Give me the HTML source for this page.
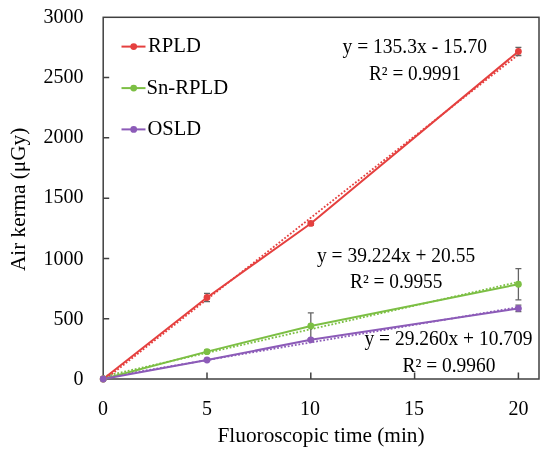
<!DOCTYPE html><html><head><meta charset="utf-8"><style>html,body{margin:0;padding:0;background:#fff;overflow:hidden;}svg{display:block;}text{font-family:"Liberation Serif",serif;fill:#000;}</style></head><body>
<svg width="550" height="459" viewBox="0 0 550 459">
<g id="plot">
<rect x="103.20" y="17.3" width="435.80" height="361.70" fill="none" stroke="#404040" stroke-width="1.5"/>
<path d="M103.20,318.72h6M103.20,258.43h6M103.20,198.15h6M103.20,137.86h6M103.20,77.57h6M207.00,379.00v-6.5M310.80,379.00v-6.5M414.60,379.00v-6.5M518.40,379.00v-6.5" stroke="#404040" stroke-width="1.5" fill="none"/>
<line x1="103.20" y1="380.89" x2="518.40" y2="54.63" stroke="#E5403F" stroke-width="1.8" stroke-dasharray="1.8 1.8"/>
<line x1="103.20" y1="376.52" x2="518.40" y2="281.94" stroke="#7CBF44" stroke-width="1.8" stroke-dasharray="1.8 1.8"/>
<line x1="103.20" y1="377.71" x2="518.40" y2="307.15" stroke="#8C5BB8" stroke-width="1.8" stroke-dasharray="1.8 1.8"/>
<polyline points="103.20,379.00 207.00,297.49 310.80,223.46 518.40,51.41" fill="none" stroke="#E5403F" stroke-width="2" stroke-linejoin="round"/>
<polyline points="103.20,379.00 207.00,351.63 310.80,325.95 518.40,284.23" fill="none" stroke="#7CBF44" stroke-width="2" stroke-linejoin="round"/>
<polyline points="103.20,379.00 207.00,360.00 310.80,339.81 518.40,308.47" fill="none" stroke="#8C5BB8" stroke-width="2" stroke-linejoin="round"/>
<path d="M207.00,293.40V301.59M204.00,293.40H210.00M204.00,301.59H210.00" stroke="#646464" stroke-width="1.3" fill="none"/>
<path d="M310.80,221.66V225.27M307.80,221.66H313.80M307.80,225.27H313.80" stroke="#646464" stroke-width="1.3" fill="none"/>
<path d="M518.40,47.31V55.51M515.40,47.31H521.40M515.40,55.51H521.40" stroke="#646464" stroke-width="1.3" fill="none"/>
<path d="M207.00,350.18V353.08M204.00,350.18H210.00M204.00,353.08H210.00" stroke="#646464" stroke-width="1.3" fill="none"/>
<path d="M310.80,312.93V338.97M307.80,312.93H313.80M307.80,338.97H313.80" stroke="#646464" stroke-width="1.3" fill="none"/>
<path d="M518.40,268.56V299.91M515.40,268.56H521.40M515.40,299.91H521.40" stroke="#646464" stroke-width="1.3" fill="none"/>
<path d="M207.00,359.03V360.96M204.00,359.03H210.00M204.00,360.96H210.00" stroke="#646464" stroke-width="1.3" fill="none"/>
<path d="M310.80,338.61V341.02M307.80,338.61H313.80M307.80,341.02H313.80" stroke="#646464" stroke-width="1.3" fill="none"/>
<path d="M518.40,305.21V311.72M515.40,305.21H521.40M515.40,311.72H521.40" stroke="#646464" stroke-width="1.3" fill="none"/>
<circle cx="103.20" cy="379.00" r="3.4" fill="#E5403F"/>
<circle cx="207.00" cy="297.49" r="3.4" fill="#E5403F"/>
<circle cx="310.80" cy="223.46" r="3.4" fill="#E5403F"/>
<circle cx="518.40" cy="51.41" r="3.4" fill="#E5403F"/>
<circle cx="103.20" cy="379.00" r="3.4" fill="#7CBF44"/>
<circle cx="207.00" cy="351.63" r="3.4" fill="#7CBF44"/>
<circle cx="310.80" cy="325.95" r="3.4" fill="#7CBF44"/>
<circle cx="518.40" cy="284.23" r="3.4" fill="#7CBF44"/>
<circle cx="103.20" cy="379.00" r="3.4" fill="#8C5BB8"/>
<circle cx="207.00" cy="360.00" r="3.4" fill="#8C5BB8"/>
<circle cx="310.80" cy="339.81" r="3.4" fill="#8C5BB8"/>
<circle cx="518.40" cy="308.47" r="3.4" fill="#8C5BB8"/>
<line x1="121.5" y1="46.60" x2="145.5" y2="46.60" stroke="#E5403F" stroke-width="2"/>
<circle cx="133.7" cy="46.60" r="3.4" fill="#E5403F"/>
<line x1="121.5" y1="88.10" x2="145.5" y2="88.10" stroke="#7CBF44" stroke-width="2"/>
<circle cx="133.7" cy="88.10" r="3.4" fill="#7CBF44"/>
<line x1="121.5" y1="129.40" x2="145.5" y2="129.40" stroke="#8C5BB8" stroke-width="2"/>
<circle cx="133.7" cy="129.40" r="3.4" fill="#8C5BB8"/>
</g>
<text id="fluoro" x="217.50" y="441.60" font-size="20" textLength="207.12" lengthAdjust="spacingAndGlyphs">Fluoroscopic time (min)</text>
<text id="air" transform="translate(25.00,271.00) rotate(-90)" font-size="20" textLength="143.20" lengthAdjust="spacingAndGlyphs">Air kerma (μGy)</text>
<text id="leg1" x="148.00" y="52.30" font-size="20" textLength="52.82" lengthAdjust="spacingAndGlyphs">RPLD</text>
<text id="leg2" x="146.50" y="93.50" font-size="20" textLength="81.62" lengthAdjust="spacingAndGlyphs">Sn-RPLD</text>
<text id="leg3" x="147.50" y="134.80" font-size="20" textLength="53.72" lengthAdjust="spacingAndGlyphs">OSLD</text>
<text id="eq1" x="342.50" y="52.80" font-size="20" textLength="144.53" lengthAdjust="spacingAndGlyphs">y = 135.3x - 15.70</text>
<text id="r1" x="369.00" y="79.80" font-size="20" textLength="91.97" lengthAdjust="spacingAndGlyphs">R² = 0.9991</text>
<text id="eq2" x="317.00" y="261.60" font-size="20" textLength="158.13" lengthAdjust="spacingAndGlyphs">y = 39.224x + 20.55</text>
<text id="r2" x="350.00" y="288.20" font-size="20" textLength="92.37" lengthAdjust="spacingAndGlyphs">R² = 0.9955</text>
<text id="eq3" x="364.50" y="345.30" font-size="20" textLength="167.95" lengthAdjust="spacingAndGlyphs">y = 29.260x + 10.709</text>
<text id="r3" x="402.50" y="371.80" font-size="20" textLength="92.98" lengthAdjust="spacingAndGlyphs">R² = 0.9960</text>
<text id="y0" x="73.50" y="385.20" font-size="20">0</text>
<text id="y1" x="53.50" y="324.95" font-size="20">500</text>
<text id="y2" x="43.50" y="264.70" font-size="20">1000</text>
<text id="y3" x="43.50" y="203.45" font-size="20">1500</text>
<text id="y4" x="43.50" y="143.20" font-size="20">2000</text>
<text id="y5" x="43.50" y="82.95" font-size="20">2500</text>
<text id="y6" x="43.50" y="22.70" font-size="20">3000</text>
<text id="x0" x="98.00" y="414.70" font-size="20">0</text>
<text id="x1" x="202.00" y="414.70" font-size="20">5</text>
<text id="x2" x="300.00" y="414.70" font-size="20">10</text>
<text id="x3" x="404.00" y="414.70" font-size="20">15</text>
<text id="x4" x="508.50" y="414.70" font-size="20">20</text>
</svg></body></html>
